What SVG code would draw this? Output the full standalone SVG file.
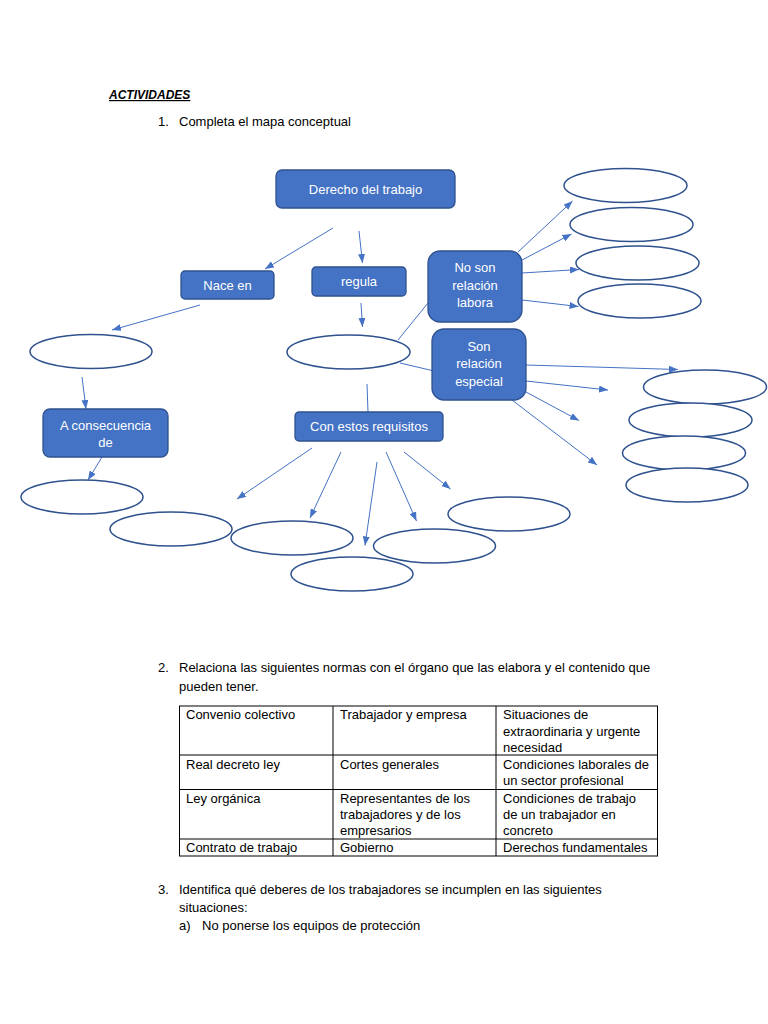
<svg xmlns="http://www.w3.org/2000/svg" width="768" height="1024" viewBox="0 0 768 1024">
<style>
text{font-family:"Liberation Sans",Arial,sans-serif;font-size:13px;fill:#000}
.nt{fill:#fff;text-anchor:middle}
.box{fill:#4472C4;stroke:#2F528F;stroke-width:1.3}
.ell{fill:#fff;stroke:#2F528F;stroke-width:1.5}
.cn{stroke:#4472C4;stroke-width:1;fill:none}
.ar{marker-end:url(#ah)}
.tb{stroke:#000;stroke-width:1;fill:none}
</style>
<defs>
<marker id="ah" viewBox="0 0 9 7" refX="9" refY="3.5" markerWidth="9" markerHeight="7" markerUnits="userSpaceOnUse" orient="auto">
<path d="M0,0 L9,3.5 L0,7 z" fill="#4472C4"/>
</marker>
</defs>
<rect width="768" height="1024" fill="#fff"/>

<text x="109" y="99" font-weight="bold" font-style="italic" style="font-size:12px" text-decoration="underline">ACTIVIDADES</text>
<text x="158" y="126">1.</text>
<text x="179" y="126">Completa el mapa conceptual</text>

<g id="connectors">
<line class="cn ar" x1="333" y1="228" x2="265" y2="269"/>
<line class="cn ar" x1="359" y1="231" x2="362.5" y2="263"/>
<line class="cn ar" x1="200" y1="305" x2="112" y2="330"/>
<line class="cn ar" x1="361" y1="303" x2="362.5" y2="327"/>
<line class="cn" x1="398" y1="340" x2="428" y2="303"/>
<line class="cn" x1="400" y1="363" x2="432" y2="370.5"/>
<line class="cn ar" x1="518" y1="252" x2="572.5" y2="201"/>
<line class="cn ar" x1="522" y1="260" x2="571.5" y2="234"/>
<line class="cn ar" x1="522" y1="273" x2="579" y2="269.5"/>
<line class="cn ar" x1="522" y1="300" x2="578.5" y2="306.5"/>
<line class="cn ar" x1="526" y1="365" x2="678" y2="369.5"/>
<line class="cn ar" x1="526" y1="381" x2="608" y2="390"/>
<line class="cn ar" x1="526" y1="392" x2="579" y2="420.5"/>
<line class="cn ar" x1="512" y1="400" x2="597" y2="465"/>
<line class="cn ar" x1="82" y1="377" x2="86" y2="409"/>
<line class="cn ar" x1="102" y1="457" x2="88" y2="480"/>
<line class="cn" x1="367" y1="384" x2="368" y2="412"/>
<line class="cn ar" x1="312" y1="448" x2="237" y2="499"/>
<line class="cn ar" x1="341" y1="452" x2="310" y2="518"/>
<line class="cn ar" x1="377" y1="462" x2="365" y2="545.5"/>
<line class="cn ar" x1="386" y1="452" x2="416.5" y2="521"/>
<line class="cn ar" x1="404" y1="452" x2="450.5" y2="489"/>
</g>

<g id="derecho"><rect class="box" x="276" y="170" width="179" height="38" rx="6"/><text class="nt" x="365.5" y="193.5">Derecho del trabajo</text></g>
<g id="nace"><rect class="box" x="181" y="271" width="93" height="28" rx="4"/><text class="nt" x="227.5" y="289.5">Nace en</text></g>
<g id="regula"><rect class="box" x="312" y="267" width="94" height="29" rx="4"/><text class="nt" x="359" y="285.5">regula</text></g>
<g id="noson"><rect class="box" x="428" y="251" width="94" height="71" rx="12"/><text class="nt" x="475" y="272">No son</text><text class="nt" x="475" y="289.5">relación</text><text class="nt" x="475" y="307">labora</text></g>
<g id="son"><rect class="box" x="432" y="329" width="94" height="71" rx="12"/><text class="nt" x="479" y="350.5">Son</text><text class="nt" x="479" y="368">relación</text><text class="nt" x="479" y="385.5">especial</text></g>
<g id="aconsecuencia"><rect class="box" x="43" y="409" width="125" height="48" rx="7"/><text class="nt" x="105.5" y="429.5">A consecuencia</text><text class="nt" x="105.5" y="446.5">de</text></g>
<g id="requisitos"><rect class="box" x="295" y="412" width="148" height="29" rx="4"/><text class="nt" x="369" y="431">Con estos requisitos</text></g>

<g id="e1"><ellipse class="ell" cx="91" cy="351.5" rx="61" ry="17"/></g>
<g id="e2"><ellipse class="ell" cx="348.5" cy="352" rx="61.5" ry="17"/></g>
<g id="e3"><ellipse class="ell" cx="82" cy="497" rx="61" ry="17"/></g>
<g id="e4"><ellipse class="ell" cx="171" cy="529" rx="61" ry="17"/></g>
<g id="e5"><ellipse class="ell" cx="292" cy="538" rx="61" ry="17"/></g>
<g id="e6"><ellipse class="ell" cx="352" cy="574" rx="61" ry="17"/></g>
<g id="e7"><ellipse class="ell" cx="434.5" cy="546" rx="61" ry="17"/></g>
<g id="e8"><ellipse class="ell" cx="509" cy="514" rx="61" ry="17"/></g>
<g id="r1"><ellipse class="ell" cx="625.5" cy="185.5" rx="61.5" ry="17"/></g>
<g id="r2"><ellipse class="ell" cx="631.5" cy="224.5" rx="61.5" ry="17"/></g>
<g id="r3"><ellipse class="ell" cx="637.5" cy="263" rx="61.5" ry="17"/></g>
<g id="r4"><ellipse class="ell" cx="639.5" cy="301" rx="61.5" ry="17"/></g>
<g id="s1"><ellipse class="ell" cx="705" cy="387" rx="61.5" ry="17"/></g>
<g id="s2"><ellipse class="ell" cx="690.5" cy="420" rx="61.5" ry="17"/></g>
<g id="s3"><ellipse class="ell" cx="684" cy="453" rx="61.5" ry="17"/></g>
<g id="s4"><ellipse class="ell" cx="687" cy="485" rx="61" ry="17"/></g>

<text x="158" y="672">2.</text>
<text x="179" y="672">Relaciona las siguientes normas con el órgano que las elabora y el contenido que</text>
<text x="179" y="691">pueden tener.</text>

<g id="tabla">
<rect class="tb" x="179.5" y="706" width="478" height="150"/>
<line class="tb" x1="333" y1="706" x2="333" y2="856"/>
<line class="tb" x1="496" y1="706" x2="496" y2="856"/>
<line class="tb" x1="179.5" y1="755" x2="657.5" y2="755"/>
<line class="tb" x1="179.5" y1="789.5" x2="657.5" y2="789.5"/>
<line class="tb" x1="179.5" y1="839" x2="657.5" y2="839"/>
<text x="186" y="719">Convenio colectivo</text>
<text x="340" y="719">Trabajador y empresa</text>
<text x="503" y="719">Situaciones de</text>
<text x="503" y="735.5">extraordinaria y urgente</text>
<text x="503" y="752">necesidad</text>
<text x="186" y="769">Real decreto ley</text>
<text x="340" y="769">Cortes generales</text>
<text x="503" y="769">Condiciones laborales de</text>
<text x="503" y="785">un sector profesional</text>
<text x="186" y="803">Ley orgánica</text>
<text x="340" y="803">Representantes de los</text>
<text x="340" y="819">trabajadores y de los</text>
<text x="340" y="835">empresarios</text>
<text x="503" y="803">Condiciones de trabajo</text>
<text x="503" y="819">de un trabajador en</text>
<text x="503" y="835">concreto</text>
<text x="186" y="852">Contrato de trabajo</text>
<text x="340" y="852">Gobierno</text>
<text x="503" y="852">Derechos fundamentales</text>
</g>

<text x="158" y="894">3.</text>
<text x="179" y="894">Identifica qué deberes de los trabajadores se incumplen en las siguientes</text>
<text x="179" y="912">situaciones:</text>
<text x="179" y="930">a)</text>
<text x="202" y="930">No ponerse los equipos de protección</text>
</svg>
